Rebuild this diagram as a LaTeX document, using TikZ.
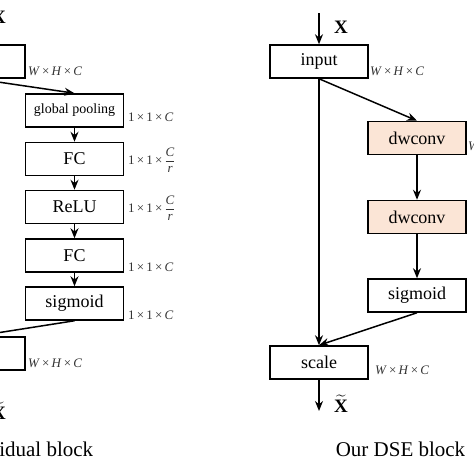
\documentclass[tikz,border=0pt]{standalone}
\usepackage{amsmath}
\usepackage{fontspec}
\setmainfont{Liberation Serif}
\usetikzlibrary{arrows.meta}
\definecolor{convfill}{HTML}{FBE5D6}
\newcommand{\tms}{\,×\,}
\newcommand{\whc}{\textit{W}\tms\textit{H}\tms\textit{C}}
\newcommand{\ooc}{1\tms1\tms\textit{C}}
\newcommand{\oocr}{1\tms1\tms$\dfrac{\textit{C}}{\textit{r}}$}
\tikzset{
  blk/.style={draw, line width=1.5pt, minimum width=98pt, minimum height=33pt,
    inner sep=0pt, font=\fontsize{18}{20}\selectfont},
  conv/.style={blk, fill=convfill},
  dimlbl/.style={font=\fontsize{13}{14}\selectfont, text=black!80, inner sep=1pt},
  flow/.style={-{Stealth[length=10pt,width=8pt]}, line width=1.5pt},
  bigx/.style={font=\fontsize{19}{20}\selectfont, inner sep=0pt},
}

\begin{document}
\begin{tikzpicture}[x=1pt,y=-1pt]
  \clip (0,0) rectangle (474,474);

  % residual block (left, cut off)
  \node[bigx] (xl) at (-1,17) {$\mathbf{X}$};
  \node[blk] (rin) at (-24,61.5) {};
  \node[blk, font=\fontsize{14}{16}\selectfont] (pool) at (74.5,110.5) {global pooling};
  \node[blk] (fca) at (74.5,159) {FC};
  \node[blk] (relu) at (74.5,207) {ReLU};
  \node[blk] (fcb) at (74.5,255.5) {FC};
  \node[blk] (sigl) at (74.5,303.5) {sigmoid};
  \node[blk] (rout) at (-24,353.5) {};
  \node[bigx] (xtl) at (-1,411) {$\widetilde{\mathbf{X}}$};
  \node[font=\fontsize{21}{22}\selectfont] (capl) at (30.5,449) {Residual block};

  \node[dimlbl, anchor=west] (rindim) at (27,71) {\whc};
  \node[dimlbl, anchor=west] (pooldim) at (127,117) {\ooc};
  \node[dimlbl, anchor=west] (fcadim) at (127,160) {\oocr};
  \node[dimlbl, anchor=west] (reludim) at (127,208) {\oocr};
  \node[dimlbl, anchor=west] (fcbdim) at (127,267) {\ooc};
  \node[dimlbl, anchor=west] (sigldim) at (127,315) {\ooc};
  \node[dimlbl, anchor=west] (routdim) at (27,363) {\whc};

  \draw[flow] (rin.south) -- (pool.north);
  \draw[flow] (pool) -- (fca);
  \draw[flow] (fca) -- (relu);
  \draw[flow] (relu) -- (fcb);
  \draw[flow] (fcb) -- (sigl);
  \draw[flow] (sigl.south) -- (rout.north);

  % DSE block (right)
  \coordinate (xin) at (319,13);
  \node[bigx] (xr) at (341,27) {$\mathbf{X}$};
  \node[blk] (inp) at (319,61.5) {input};
  \node[conv] (dwa) at (417,138) {dwconv};
  \node[conv] (dwb) at (417,217) {dwconv};
  \node[blk] (sigr) at (417,295.5) {sigmoid};
  \node[blk] (scl) at (319,362.5) {scale};
  \coordinate (xout) at (319,411);
  \node[bigx] (xtr) at (341,404) {$\widetilde{\mathbf{X}}$};
  \node[font=\fontsize{21}{22}\selectfont] (capr) at (400.5,449) {Our DSE block};

  \node[dimlbl, anchor=west] (inpdim) at (369,71) {\whc};
  \node[dimlbl, anchor=west] (dwadim) at (467,146) {\whc};
  \node[dimlbl, anchor=west] (scldim) at (374,370) {\whc};

  \draw[flow] (xin) -- (inp);
  \draw[flow] (inp) -- (scl);
  \draw[flow] (inp.south) -- (dwa.north);
  \draw[flow] (dwa) -- (dwb);
  \draw[flow] (dwb) -- (sigr);
  \draw[flow] (sigr.south) -- (scl.north);
  \draw[flow] (scl) -- (xout);
\end{tikzpicture}
\end{document}
